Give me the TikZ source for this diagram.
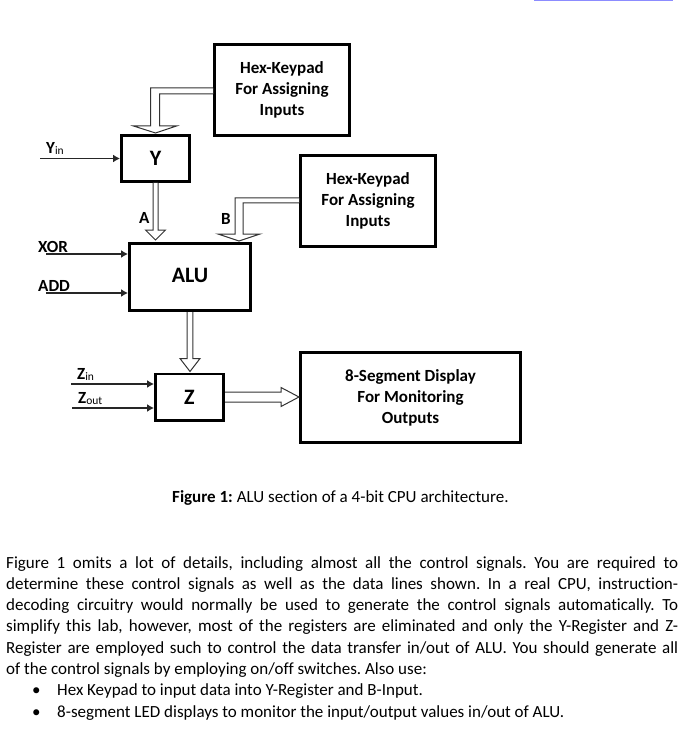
\documentclass[tikz,border=0pt]{standalone}
\usepackage{fontspec}
\setmainfont{Carlito}[Ligatures=NoCommon]
\usetikzlibrary{calc,arrows.meta}
\frenchspacing
\begin{document}
\begin{tikzpicture}[x=1pt,y=-1pt,
  box/.style={draw=black, line width=2.6pt, inner sep=0pt, align=center, font=\fontsize{17}{21}\selectfont\bfseries},
  bigbox/.style={box, font=\fontsize{22}{26}\selectfont\bfseries},
  hol/.style={draw=black!80, line width=1pt, fill=white, line join=miter},
  sig/.style={draw=black!85, line width=1.3pt, -{Latex[length=7pt,width=8pt]}},
  lbl/.style={inner sep=0pt, anchor=base west, font=\fontsize{17}{21}\selectfont\bfseries},
  txt/.style={inner sep=0pt, anchor=base west, font=\fontsize{17}{21.3}\selectfont}
]
\path[use as bounding box] (0,0) rectangle (700,735);
\fill[blue!45] (534,0) rectangle (673,1.5);

% boxes
\node[box, minimum width=135.4pt, minimum height=91.4pt] (kp1) at (282,90) {Hex-Keypad\\For Assigning\\Inputs};
\node[bigbox, minimum width=68.4pt, minimum height=46.4pt] (Y) at (155.5,158.5) {Y};
\node[box, minimum width=135.4pt, minimum height=91.4pt] (kp2) at (368,201) {Hex-Keypad\\For Assigning\\Inputs};
\node[bigbox, minimum width=121.4pt, minimum height=67.4pt] (ALU) at (190,277) {\raisebox{3pt}{ALU}};
\node[bigbox, minimum width=68.4pt, minimum height=46.4pt] (Z) at (189.5,397) {Z};
\node[box, minimum width=220.4pt, minimum height=90.4pt] (disp) at (410.5,397.5) {8-Segment Display\\For Monitoring\\Outputs};

% control signals
\coordinate (yin) at (40,158.5);
\coordinate (xor) at (46,254);
\coordinate (add) at (46,293);
\coordinate (zin) at (71,384);
\coordinate (zout) at (72,408);
\draw[sig] (yin) -- (yin -| Y.west);
\draw[sig] (xor) -- (xor -| ALU.west);
\draw[sig] (add) -- (add -| ALU.west);
\draw[sig] (zin) -- (zin -| Z.west);
\draw[sig] (zout) -- (zout -| Z.west);

\node[lbl] (lyin) at (46,154) {Y\raisebox{-1pt}{\fontsize{11.5}{13}\selectfont\mdseries in}};
\node[lbl] (lxor) at (38,252) {XOR};
\node[lbl] (ladd) at (38,291) {ADD};
\node[lbl] (lzin) at (77,379) {Z\raisebox{-1pt}{\fontsize{11.5}{13}\selectfont\mdseries in}};
\node[lbl] (lzout) at (78,403) {Z\raisebox{-1pt}{\fontsize{11.5}{13}\selectfont\mdseries out}};
\node[lbl] (la) at (139,223) {A};
\node[lbl] (lb) at (221,225) {B};

% hollow bus arrows
\draw[hol] ($(kp1.west)+(0,-2)$) -| ($(Y.north)+(-5,-8)$) -- ($(Y.north)+(-22,-8)$) -- ($(Y.north)+(0,-1)$) -- ($(Y.north)+(21,-8)$) -- ($(Y.north)+(4,-8)$) |- ($(kp1.west)+(0,4)$);

\coordinate (tA) at (Y.south |- ALU.north);
\draw[hol] ($(Y.south)+(-2.5,0)$) -- ($(tA)+(-2.5,-12)$) -- ($(tA)+(-10,-12)$) -- ($(tA)+(0,-2)$) -- ($(tA)+(10,-12)$) -- ($(tA)+(2.5,-12)$) -- ($(Y.south)+(2.5,0)$);

\coordinate (tB) at ($(ALU.north east)+(-13,0)$);
\draw[hol] ($(kp2.west)+(0,-3)$) -| ($(tB)+(-4,-8)$) -- ($(tB)+(-21,-8)$) -- ($(tB)+(0,-1)$) -- ($(tB)+(21,-8)$) -- ($(tB)+(4,-8)$) |- ($(kp2.west)+(0,2)$);

\coordinate (tC) at (ALU.south |- Z.north);
\draw[hol] ($(ALU.south)+(-2.8,0)$) -- ($(tC)+(-2.8,-14)$) -- ($(tC)+(-10,-14)$) -- ($(tC)+(0,-1)$) -- ($(tC)+(10,-14)$) -- ($(tC)+(2.8,-14)$) -- ($(ALU.south)+(2.8,0)$);

\coordinate (tD) at (disp.west |- Z.east);
\draw[hol] ($(Z.east)+(0,-5)$) -- ($(tD)+(-18,-5)$) -- ($(tD)+(-18,-9.5)$) -- (tD) -- ($(tD)+(-18,9.5)$) -- ($(tD)+(-18,5)$) -- ($(Z.east)+(0,5)$);

% caption
\node[txt] (cap) at (172,502) {\textbf{Figure 1:} ALU section of a 4-bit CPU architecture.};

% paragraph
\node[txt] (para) at (6,568) {\parbox[t]{672pt}{\hyphenpenalty=10000\exhyphenpenalty=10000\tolerance=10000\parindent=0pt
Figure 1 omits a lot of details, including almost all the control signals. You are required to\linebreak
determine these control signals as well as the data lines shown. In a real CPU, instruction-\linebreak
decoding circuitry would normally be used to generate the control signals automatically. To\linebreak
simplify this lab, however, most of the registers are eliminated and only the Y-Register and Z-\linebreak
Register are employed such to control the data transfer in/out of ALU. You should generate all\linebreak
of the control signals by employing on/off switches. Also use:\par
\hspace*{26pt}\makebox[25pt][l]{\textbullet}Hex Keypad to input data into Y-Register and B-Input.\par
\hspace*{26pt}\makebox[25pt][l]{\textbullet}8-segment LED displays to monitor the input/output values in/out of ALU.}};
\end{tikzpicture}
\end{document}
